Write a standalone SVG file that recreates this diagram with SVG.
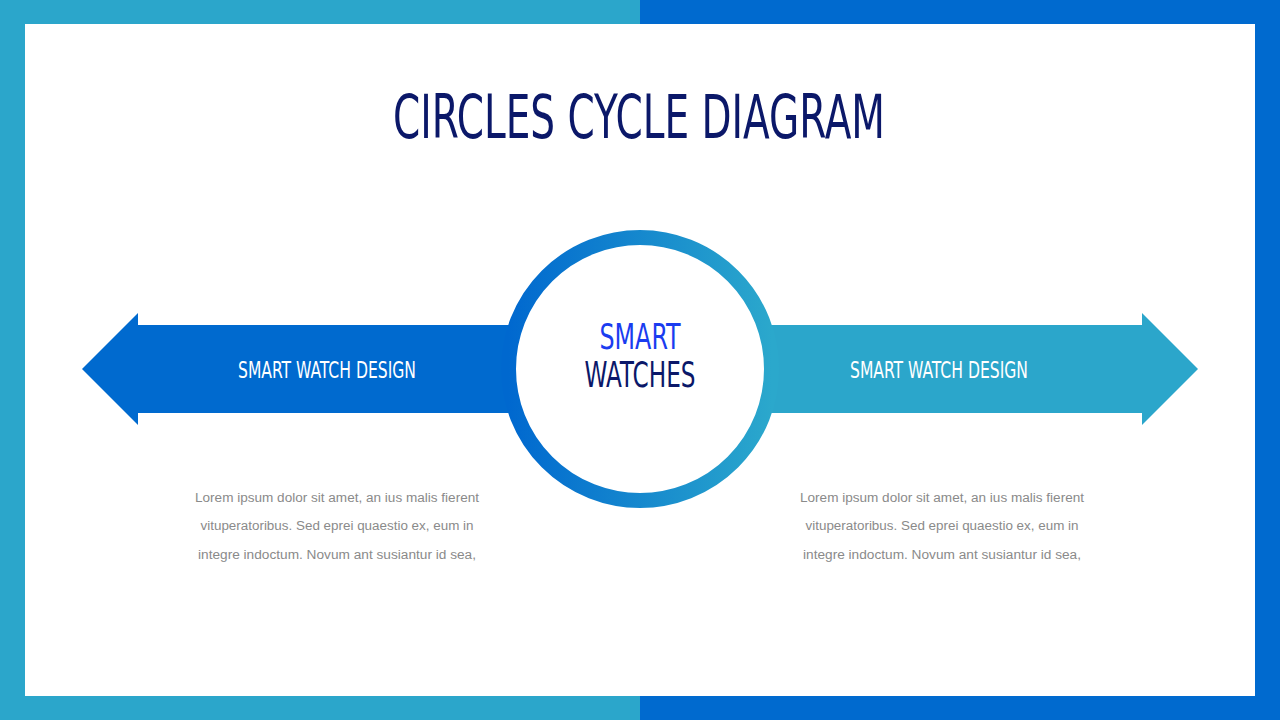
<svg xmlns="http://www.w3.org/2000/svg" width="1280" height="720" viewBox="0 0 1280 720">
  <defs>
    <linearGradient id="ringGrad" x1="0" y1="0" x2="1" y2="0">
      <stop offset="0" stop-color="#0068CF"/>
      <stop offset="1" stop-color="#2BA8CC"/>
    </linearGradient>
    <style>
      .cond { font-family: "Liberation Sans Narrow", "DejaVu Sans Condensed", "Liberation Sans", sans-serif; font-stretch: condensed; }
      .title { font-size: 60px; fill: #0B1869; }
      .lbl { font-size: 23.5px; fill: #FFFFFF; }
      .body { font-family: "Liberation Sans", "Open Sans", sans-serif; font-size: 12.5px; fill: #8A8A8A; }
    </style>
  </defs>

  <!-- frame -->
  <g id="frame">
    <rect x="0" y="0" width="640" height="720" fill="#2BA6CB"/>
    <rect x="640" y="0" width="640" height="720" fill="#006ACF"/>
    <rect x="25" y="24" width="1230" height="672" fill="#FFFFFF"/>
  </g>

  <g id="title">
    <text class="cond title" x="639" y="138" text-anchor="middle" textLength="492" lengthAdjust="spacingAndGlyphs">CIRCLES CYCLE DIAGRAM</text>
  </g>

  <g id="connectors">
    <polygon id="arrow-left" points="82,369 138,313 138,325 560,325 560,413 138,413 138,425" fill="#006ACF"/>
    <polygon id="arrow-right" points="1198,369 1142,313 1142,325 720,325 720,413 1142,413 1142,425" fill="#2BA6CB"/>
  </g>

  <g id="node-center">
    <circle cx="640" cy="369" r="131.5" fill="#FFFFFF" stroke="url(#ringGrad)" stroke-width="15"/>
    <text class="cond" x="640" y="349" text-anchor="middle" font-size="35" fill="#1A3CF0" textLength="81" lengthAdjust="spacingAndGlyphs">SMART</text>
    <text class="cond" x="640" y="387" text-anchor="middle" font-size="35" fill="#0B1869" textLength="111" lengthAdjust="spacingAndGlyphs">WATCHES</text>
  </g>

  <g id="node-left">
    <text class="cond lbl" x="327" y="378" text-anchor="middle" textLength="178" lengthAdjust="spacingAndGlyphs">SMART WATCH DESIGN</text>
    <text class="body" x="337" y="502" text-anchor="middle" textLength="284" lengthAdjust="spacingAndGlyphs">Lorem ipsum dolor sit amet, an ius malis fierent</text>
    <text class="body" x="337" y="530" text-anchor="middle" textLength="273" lengthAdjust="spacingAndGlyphs">vituperatoribus. Sed eprei quaestio ex, eum in</text>
    <text class="body" x="337" y="559" text-anchor="middle" textLength="278" lengthAdjust="spacingAndGlyphs">integre indoctum. Novum ant susiantur id sea,</text>
  </g>

  <g id="node-right">
    <text class="cond lbl" x="939" y="378" text-anchor="middle" textLength="178" lengthAdjust="spacingAndGlyphs">SMART WATCH DESIGN</text>
    <text class="body" x="942" y="502" text-anchor="middle" textLength="284" lengthAdjust="spacingAndGlyphs">Lorem ipsum dolor sit amet, an ius malis fierent</text>
    <text class="body" x="942" y="530" text-anchor="middle" textLength="273" lengthAdjust="spacingAndGlyphs">vituperatoribus. Sed eprei quaestio ex, eum in</text>
    <text class="body" x="942" y="559" text-anchor="middle" textLength="278" lengthAdjust="spacingAndGlyphs">integre indoctum. Novum ant susiantur id sea,</text>
  </g>
</svg>
